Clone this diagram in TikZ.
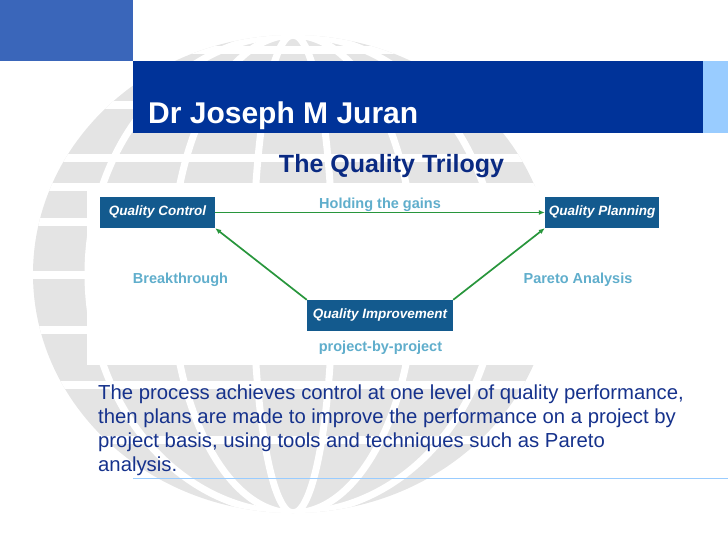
\documentclass[tikz,border=0pt]{standalone}
\usepackage{fontspec}
\setmainfont{Liberation Sans}
\usepackage{tikz}
\usetikzlibrary{arrows.meta}
\definecolor{sky}{RGB}{58,102,186}
\definecolor{navy}{RGB}{0,51,153}
\definecolor{pale}{RGB}{153,204,255}
\definecolor{deep}{RGB}{10,42,130}
\definecolor{steel}{RGB}{19,90,142}
\definecolor{lblue}{RGB}{96,174,204}
\definecolor{leaf}{RGB}{40,150,60}
\definecolor{ink}{RGB}{22,50,140}
\definecolor{globe}{RGB}{228,228,228}

\begin{document}
\begin{tikzpicture}[x=1pt,y=-1pt,
   box/.style={fill=steel,text=white,inner sep=0pt,minimum height=31pt,
     font=\fontsize{13.5}{16}\selectfont\bfseries\itshape},
   lbl/.style={text=lblue,anchor=base,font=\fontsize{14.5}{17}\selectfont\bfseries},
   link/.style={draw=leaf,line width=1.7pt,-{Latex[length=6pt,width=5pt]}}]
  \useasboundingbox (0,0) rectangle (728,546);
  % globe watermark
  \begin{scope}
    \clip (293,274) ellipse [x radius=260, y radius=239];
    \fill[globe] (0,0) rectangle (728,546);
    \foreach \yy in {50,105,158,187,222,275,330,385,440}
      \draw[white,line width=8pt] (0,\yy) -- (728,\yy);
    \foreach \rr in {40,122,205}
      \draw[white,line width=7pt] (293,274) ellipse [x radius=\rr, y radius=239];
  \end{scope}
  \fill[white] (87,187) rectangle (690,365);
  % header
  \fill[sky] (0,0) rectangle (133,61);
  \fill[navy] (133,61) rectangle (703,133);
  \fill[pale] (703,61) rectangle (728,133);
  \node[anchor=base west,inner sep=0pt,text=white,
    font=\fontsize{30}{36}\selectfont\bfseries] (juran) at (148,123) {Dr Joseph M Juran};
  \node[anchor=base,inner sep=0pt,text=deep,
    font=\fontsize{25}{30}\selectfont\bfseries] (trilogy) at (391.5,172) {The Quality Trilogy};
  % trilogy
  \node[box,minimum width=115pt] (qc) at (157.5,212.5) {Quality Control};
  \node[box,minimum width=114pt] (qp) at (602,212.5) {Quality Planning};
  \node[box,minimum width=146pt] (qi) at (380,315.5) {Quality Improvement};
  \draw[link] (qc.east) -- (qp.west);
  \draw[link] (qi.north west) -- (qc.south east);
  \draw[link] (qi.north east) -- (qp.south west);
  \node[lbl] (hold) at (380,208) {Holding the gains};
  \node[lbl] (brk) at (180.5,283) {Breakthrough};
  \node[lbl] (par) at (578,283) {Pareto Analysis};
  \node[lbl] (pbp) at (380.5,351) {project-by-project};
  % summary
  \node[anchor=north west,inner sep=0pt,align=left,text=ink,
    font=\fontsize{20.3}{24}\selectfont] (note) at (98,384.5)
    {The process achieves control at one level of quality performance,\\
     then plans are made to improve the performance on a project by\\
     project basis, using tools and techniques such as Pareto\\
     analysis.};
  \draw[pale,line width=1pt] (133,478) -- (728,478);
\end{tikzpicture}
\end{document}
